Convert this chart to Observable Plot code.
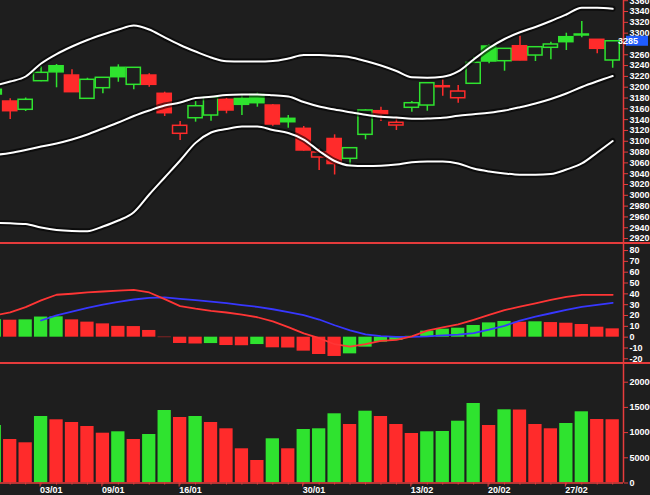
<!DOCTYPE html>
<html><head><meta charset="utf-8">
<script src="https://cdn.jsdelivr.net/npm/d3@7"></script>
<script src="https://cdn.jsdelivr.net/npm/@observablehq/plot@0.6"></script>
<style>
html,body{margin:0;padding:0;background:#1e1e1e;}
#chart{position:relative;width:650px;height:495px;background:#1e1e1e;overflow:hidden;}
#chart svg{position:absolute;left:0;display:block;}
.sep{position:absolute;left:0;width:650px;height:2px;background:#e53b3b;}
</style></head>
<body><div id="chart"></div>
<script>
// ---------- data ----------
const barIndex = d3.range(-1, 40);
const open  = [3195.2,3173.5,3158.2,3211.1,3238.8,3221.6,3178.5,3198.2,3235.9,3204.4,3221.6,3187.8,3113.8,3142.6,3147.6,3176.7,3178.5,3185.9,3166.1,3141.5,3123.0,3070.0,3104.2,3067.5,3111.9,3155.6,3129.1,3161.9,3166.1,3200.0,3179.6,3206.3,3275.3,3248.1,3275.8,3258.6,3272.9,3292.5,3295.7,3287.7,3249.4];
const high  = [3201.0,3178.5,3180.0,3238.3,3242.0,3232.2,3216.6,3218.0,3241.4,3236.4,3224.8,3190.8,3136.5,3173.5,3181.0,3179.7,3185.9,3189.6,3168.0,3147.6,3127.3,3086.6,3111.9,3087.6,3158.2,3163.0,3142.6,3173.5,3207.8,3213.7,3203.1,3255.5,3278.4,3271.5,3294.4,3274.5,3283.3,3299.9,3321.5,3288.0,3285.5];
const low   = [3182.8,3140.2,3155.0,3210.0,3198.9,3190.0,3178.0,3187.8,3209.2,3195.2,3200.0,3145.8,3101.4,3135.3,3137.1,3150.8,3147.6,3163.0,3127.8,3124.1,3081.6,3045.9,3037.6,3055.1,3102.7,3136.5,3119.9,3153.7,3155.6,3183.3,3170.4,3205.5,3243.3,3229.6,3249.0,3247.5,3250.7,3267.9,3291.4,3261.8,3235.1];
const close = [3186.5,3155.6,3176.7,3226.6,3227.5,3190.8,3213.7,3217.4,3218.5,3235.9,3204.4,3151.9,3128.6,3164.8,3180.4,3156.9,3167.4,3170.4,3131.0,3135.2,3082.9,3079.2,3057.9,3087.2,3156.9,3149.5,3134.1,3170.4,3207.4,3201.8,3192.0,3245.1,3247.5,3271.0,3249.4,3274.0,3279.0,3283.3,3297.5,3271.0,3285.0];
const bbUpper  = [3203.2,3210.5,3219.8,3243.9,3261.4,3275.3,3287.3,3297.5,3306.7,3314.1,3306.7,3292.0,3278.1,3266.0,3255.0,3248.1,3247.5,3247.5,3248.5,3253.1,3259.6,3259.6,3258.1,3255.5,3248.5,3240.2,3230.0,3218.3,3217.6,3219.2,3229.1,3251.2,3272.5,3289.2,3301.6,3311.4,3322.5,3334.5,3346.9,3346.9,3345.0];
const bbMiddle = [3074.6,3078.3,3083.8,3090.3,3095.9,3103.2,3112.5,3123.6,3134.7,3146.7,3156.9,3166.1,3171.7,3180.0,3182.3,3185.4,3186.3,3186.5,3185.0,3182.8,3172.6,3164.3,3158.7,3153.8,3149.0,3145.4,3144.0,3141.5,3142.1,3143.4,3147.1,3149.9,3152.8,3156.9,3163.0,3169.9,3178.2,3188.4,3200.4,3210.9,3220.7];
const bbLower  = [2948.8,2948.2,2946.9,2940.4,2935.8,2934.0,2933.6,2942.3,2953.4,2968.7,3001.5,3033.0,3064.4,3097.0,3116.2,3122.7,3127.3,3127.3,3120.8,3115.3,3103.2,3081.9,3063.5,3055.1,3054.0,3054.6,3057.0,3061.2,3062.5,3062.5,3058.9,3049.6,3044.1,3040.4,3038.1,3038.0,3039.4,3047.7,3058.9,3079.2,3100.5];
const macdDif  = [20,23,27.7,34,39.2,40.1,41.3,42.2,43,43.6,41.3,35.2,28.7,26.3,24.3,22.8,20.8,18.4,14.6,9.3,3.5,-0.8,-6.5,-8.8,-6.5,-3.5,-2.5,0.8,6,9,11.8,16,20.5,25,28.2,31.3,34.5,37.3,39,39.1,39.1];
const macdDea  = [null,null,null,15.4,20.2,23.5,27,30,32.7,34.8,36.3,36.7,35.4,34.3,32.9,31.5,29.6,28,25.8,23.2,20.4,16.3,11,6.3,2.5,0.9,0.2,0.2,0.7,1.6,2.4,3.8,6.9,10.5,15.3,18.9,22.1,25.3,27.9,29.8,31.7];
const macdHist = [16.2,15.7,16.0,18.6,18.8,16.0,13.9,12.3,10.0,9.8,6.2,-0.4,-5.8,-6.3,-5.9,-7.7,-7.9,-6.8,-9.8,-10.0,-12.9,-16.0,-17.8,-15.4,-9.2,-4.6,-3.0,0.8,5.6,7.4,8.3,10.8,13.2,14.5,13.8,14.2,13.5,12.9,11.7,9.2,7.7];
const volume   = [11408,8630,7976,13194,12539,12003,11210,9880,10158,8630,9622,14384,12995,13194,12003,10753,6785,4464,8769,6785,10614,10753,13729,11606,14245,13194,11606,9821,10158,10218,12261,15773,11408,14523,14480,11606,10753,11805,14126,12598,12550];
const dateLabels    = ["03/01","09/01","16/01","30/01","13/02","20/02","27/02"];
const dateLabelBars = [2,6,11,19,26,31,36];
const priceTicks  = d3.range(2920, 3361, 20);
const macdTicks   = d3.range(-20, 81, 10);
const volumeTicks = [0, 5000, 10000, 15000, 20000];
const lastPrice = 3285;

// ---------- style ----------
const GREEN = "#2fe32f", RED = "#ff2b2b", AXIS_RED = "#e83c3c", BG = "#1e1e1e";
const BLUE_LINE = "#3737ff", RED_LINE = "#ff3535", HILITE = "#1f5cff";
const FONT = "'Liberation Sans', Arial, sans-serif";
const xDomain = [-0.628, 39.70];
const W = 650, MR = 27;

const rows = barIndex.map((i, k) => ({
  i, o: open[k], h: high[k], l: low[k], c: close[k],
  up: close[k] > open[k],
  col: (k === 0 || close[k] >= close[k - 1]) ? GREEN : RED,
  ub: bbUpper[k], mb: bbMiddle[k], lb: bbLower[k],
  dif: macdDif[k], dea: macdDea[k], hist: macdHist[k],
  hcol: (k === 0 || macdHist[k] > macdHist[k - 1]) ? GREEN : RED,
  vol: volume[k],
  vcol: (k === 0 || volume[k] > volume[k - 1]) ? GREEN : RED
}));

function base(height, yDomain, marginBottom = 0) {
  return {
    width: W, height, marginLeft: 0, marginRight: MR, marginTop: 0, marginBottom,
    x: {type: "linear", domain: xDomain, axis: null},
    y: {type: "linear", domain: yDomain, axis: null},
    color: {type: "identity"},
    style: {background: "transparent", color: "white", fontFamily: FONT, fontSize: "9px"}
  };
}
function rightAxis(ticks, hide = () => false) {
  return [
    Plot.ruleX([xDomain[1]], {stroke: AXIS_RED, strokeWidth: 1.5}),
    Plot.axisY({anchor: "right", ticks, tickFormat: d => hide(d) ? "" : String(d), tickSize: 4, tickPadding: 2,
      label: null, stroke: AXIS_RED, fill: "white", fontWeight: "bold", fontSize: 9})
  ];
}
function band(key) {
  return [
    Plot.line(rows, {x: "i", y: key, stroke: "#000", strokeOpacity: 0.6, strokeWidth: 6, curve: "monotone-x", clip: true}),
    Plot.line(rows, {x: "i", y: key, stroke: "white", strokeWidth: 2, curve: "monotone-x", clip: true})
  ];
}

// ---------- price panel ----------
const price = Plot.plot({
  ...base(242, [2912.7, 3360.4]),
  marks: [
    Plot.ruleX(rows, {x: "i", y1: "l", y2: "h", stroke: "col", strokeWidth: 1.5, clip: true}),
    Plot.rect(rows, {x1: d => d.i - 0.46, x2: d => d.i + 0.46, y1: "o", y2: "c",
      fill: d => d.up ? BG : d.col, stroke: "col", strokeWidth: 1.5, clip: true}),
    ...band("ub"), ...band("mb"), ...band("lb"),
    ...rightAxis(priceTicks, d => Math.abs(d - lastPrice) < 10)
  ]
});

// ---------- MACD panel ----------
const macd = Plot.plot({
  ...base(120, [-24.3, 86.5]),
  marks: [
    Plot.rect(rows, {x1: d => d.i - 0.43, x2: d => d.i + 0.43, y1: 0, y2: "hist", fill: "hcol", clip: true}),
    Plot.line(rows, {x: "i", y: "dea", stroke: BLUE_LINE, strokeWidth: 1.8, clip: true}),
    Plot.line(rows, {x: "i", y: "dif", stroke: RED_LINE, strokeWidth: 1.8, clip: true}),
    ...rightAxis(macdTicks)
  ]
});

// ---------- volume panel ----------
const vol = Plot.plot({
  ...base(132, [0, 23709], 12.5),
  marks: [
    Plot.rect(rows, {x1: d => d.i - 0.43, x2: d => d.i + 0.43, y1: 0, y2: "vol", fill: "vcol", clip: true}),
    Plot.ruleY([0], {stroke: AXIS_RED, strokeWidth: 1.5}),
    Plot.axisX({ticks: barIndex.filter(i => i >= 0), tickFormat: () => "", tickSize: 2, label: null, stroke: AXIS_RED}),
    Plot.axisX({ticks: dateLabelBars, tickFormat: d => dateLabels[dateLabelBars.indexOf(d)],
      tickSize: 4, tickPadding: 0, label: null, stroke: AXIS_RED, fill: "white", textAnchor: "start", dx: -1,
      fontWeight: "bold", fontSize: 9}),
    ...rightAxis(volumeTicks)
  ]
});

const chart = document.getElementById("chart");
function svgOf(p) { return p.tagName.toLowerCase() === "svg" ? p : p.querySelector("svg"); }
const tops = [0, 243, 363];
[price, macd, vol].forEach((p, k) => { const s = svgOf(p); s.style.top = tops[k] + "px"; chart.appendChild(p); });
[241.5, 362].forEach(t => { const d = document.createElement("div"); d.className = "sep"; d.style.top = t + "px"; chart.appendChild(d); });

// last-price highlight on the price axis
{
  const s = d3.select(svgOf(price));
  const yy = price.scale("y").apply(lastPrice);
  const xx = price.scale("x").apply(xDomain[1]);
  s.append("rect").attr("x", xx + 3).attr("y", yy - 5).attr("width", 22).attr("height", 10).attr("fill", HILITE);
  s.append("text").attr("x", xx + 5).attr("y", yy).attr("dy", "0.32em").attr("fill", "white")
    .attr("font-weight", "bold").attr("font-size", 9).attr("font-family", FONT).text(String(lastPrice));
}
</script></body></html>
